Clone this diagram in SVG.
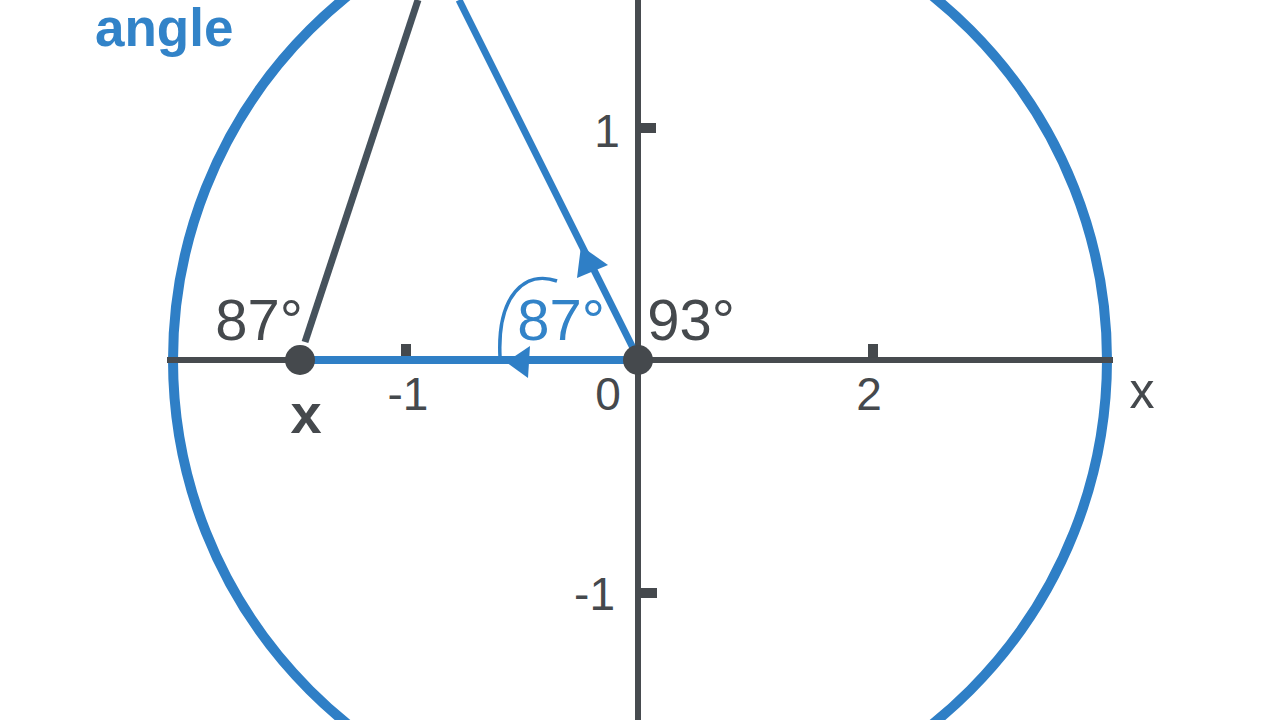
<svg xmlns="http://www.w3.org/2000/svg" width="1280" height="720" viewBox="0 0 1280 720">
<style>
.axis{stroke:#474b4f;stroke-width:6;fill:none}
.blue{stroke:#2f7fc6;fill:none}
.dark{fill:#45494d}
.lbl{font-family:"Liberation Sans",Arial,sans-serif;fill:#45494d}
.bl{fill:#3283c8}
</style>
<rect width="1280" height="720" fill="#ffffff"/>
<g id="circle"><circle cx="640" cy="360" r="467" class="blue" stroke-width="10"/></g>
<g id="axes">
<line x1="167" y1="360" x2="1113" y2="360" class="axis"/>
<line x1="638" y1="0" x2="638" y2="720" class="axis"/>
<rect x="401" y="344" width="10" height="14" class="dark"/>
<rect x="868" y="344" width="10" height="14" class="dark"/>
<rect x="640" y="123" width="16" height="10" class="dark"/>
<rect x="640" y="588" width="17" height="10" class="dark"/>
</g>
<g id="connectors">
<line x1="305" y1="342" x2="418" y2="0" stroke="#46525c" stroke-width="7"/>
<line x1="300" y1="360" x2="638" y2="360" class="blue" stroke-width="8"/>
<line x1="638" y1="358" x2="459" y2="0" class="blue" stroke-width="7"/>
<path d="M557 281 C525 270 497 295 500 357" class="blue" stroke-width="3.5"/>
<polygon points="506,362 530,346 528,378" fill="#2f7fc6"/>
<polygon points="581,246 608,265 577,278" fill="#2f7fc6"/>
</g>
<g id="points">
<circle cx="300" cy="360" r="15" fill="#45494d"/>
<circle cx="638" cy="360" r="15" fill="#45494d"/>
</g>
<g id="labels">
<text x="95" y="46" class="lbl bl" font-size="53" font-weight="bold">angle</text>
<text x="259" y="340" class="lbl" font-size="58" text-anchor="middle">87°</text>
<text x="561" y="340" class="lbl bl" font-size="58" text-anchor="middle">87°</text>
<text x="691" y="340" class="lbl" font-size="58" text-anchor="middle">93°</text>
<text x="306" y="433" class="lbl" font-size="56" font-weight="bold" text-anchor="middle">x</text>
<text x="1142" y="408" class="lbl" font-size="50" text-anchor="middle">x</text>
<text x="408" y="410" class="lbl" font-size="46" text-anchor="middle">-1</text>
<text x="608" y="410" class="lbl" font-size="46" text-anchor="middle">0</text>
<text x="869" y="410" class="lbl" font-size="46" text-anchor="middle">2</text>
<text x="607" y="147" class="lbl" font-size="46" text-anchor="middle">1</text>
<text x="615" y="610" class="lbl" font-size="46" text-anchor="end">-1</text>
</g>
</svg>
